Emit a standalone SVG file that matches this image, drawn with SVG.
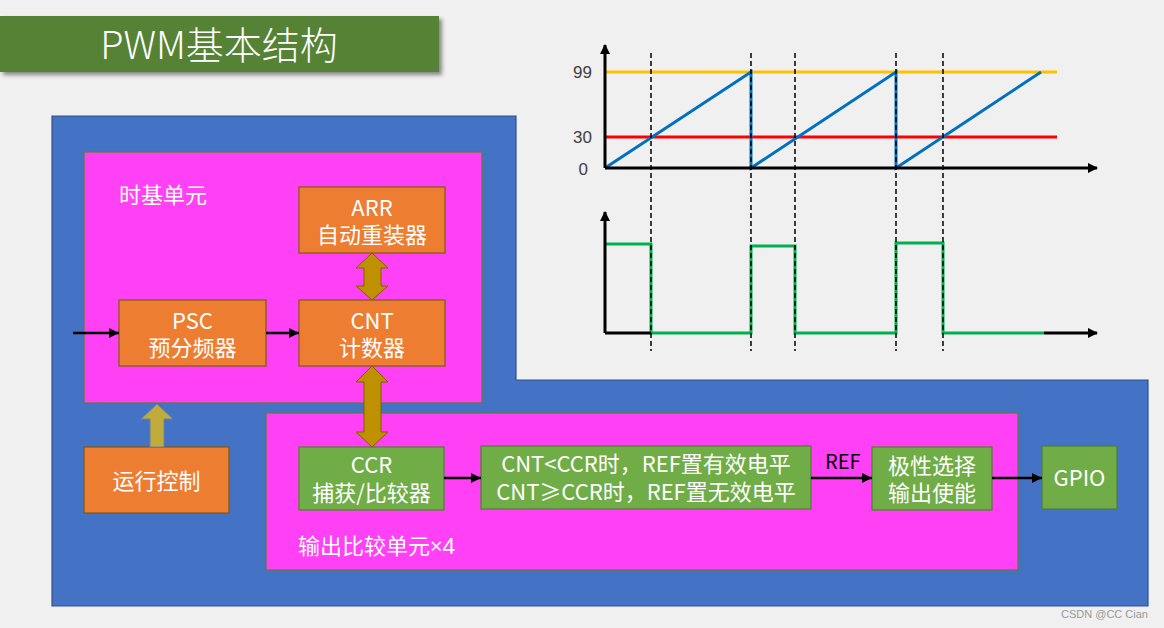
<svg xmlns="http://www.w3.org/2000/svg" width="1164" height="628" viewBox="0 0 1164 628">
<style>
.t{font-family:"Noto Sans CJK SC","Noto Sans",sans-serif;fill:#fff;font-size:22px}
.c{text-anchor:middle}
.org{fill:#ED7D31;stroke:#7F5A10;stroke-width:1.2}
.grn{fill:#70AD47;stroke:#507E32;stroke-width:1.2}
.pink{fill:#FF40F5;stroke:#548235;stroke-width:1.2}
.ax{stroke:#000;stroke-width:3;fill:none}
.dash{stroke:#000;stroke-width:1.5;stroke-dasharray:5,3;fill:none}
.lbl{font-family:"Liberation Sans",Arial,sans-serif;font-size:17px;fill:#404040;text-anchor:end}
.conn{stroke:#000;stroke-width:2.5;fill:none}
</style>
<defs>
<marker id="ah" viewBox="0 0 10 10" refX="10" refY="5" markerWidth="4" markerHeight="4" orient="auto" markerUnits="strokeWidth">
<path d="M0,0L10,5L0,10z" fill="#000"/>
</marker>
<marker id="axh" viewBox="0 0 10 10" refX="9" refY="5" markerWidth="3.5" markerHeight="3.5" orient="auto" markerUnits="strokeWidth">
<path d="M0,0L10,5L0,10z" fill="#000"/>
</marker>
<filter id="sh" x="-5%" y="-20%" width="115%" height="150%">
<feGaussianBlur in="SourceAlpha" stdDeviation="2"/>
<feOffset dx="3" dy="3"/>
<feComponentTransfer><feFuncA type="linear" slope="0.45"/></feComponentTransfer>
<feMerge><feMergeNode/><feMergeNode in="SourceGraphic"/></feMerge>
</filter>
</defs>
<rect width="1164" height="628" fill="#F0F0F0"/>

<g id="title">
<rect x="0" y="16" width="439" height="56" fill="#548235" filter="url(#sh)"/>
<text x="219" y="59" class="t c" style="font-size:38px;font-weight:300">PWM基本结构</text>
</g>

<g id="background">
<polygon points="52,116 516,116 516,380 1148,380 1148,606 52,606" fill="#4472C4" stroke="#2F528F" stroke-width="1.2"/>
</g>

<g id="timebase">
<rect x="84" y="152" width="398" height="251" class="pink"/>
<text x="119" y="203" class="t">时基单元</text>
</g>

<g id="outcompare">
<rect x="266" y="413" width="752" height="157" class="pink"/>
<text x="298" y="554" class="t">输出比较单元<tspan style="font-family:'Noto Sans','Liberation Sans',sans-serif">×4</tspan></text>
</g>

<g id="arr">
<rect x="299" y="187" width="146" height="66" class="org"/>
<text x="372" y="216" class="t c">ARR</text>
<text x="372" y="243" class="t c">自动重装器</text>
</g>

<g id="psc">
<rect x="119" y="300" width="147" height="66" class="org"/>
<text x="192.5" y="329" class="t c">PSC</text>
<text x="192.5" y="356" class="t c">预分频器</text>
</g>

<g id="cnt">
<rect x="299" y="300" width="146" height="66" class="org"/>
<text x="372" y="329" class="t c">CNT</text>
<text x="372" y="356" class="t c">计数器</text>
</g>

<g id="runctrl">
<rect x="84" y="447" width="145" height="66" class="org"/>
<text x="156.5" y="489" class="t c">运行控制</text>
</g>

<g id="ccr">
<rect x="299" y="447" width="145" height="63" class="grn"/>
<text x="371.5" y="473" class="t c">CCR</text>
<text x="371.5" y="501" class="t c">捕获/比较器</text>
</g>

<g id="compare">
<rect x="481" y="446" width="330" height="63" class="grn"/>
<text x="646" y="472" class="t c">CNT&lt;CCR时，REF置有效电平</text>
<text x="646" y="500" class="t c">CNT≥CCR时，REF置无效电平</text>
</g>

<g id="polarity">
<rect x="872" y="447" width="120" height="63" class="grn"/>
<text x="932" y="474" class="t c">极性选择</text>
<text x="932" y="501" class="t c">输出使能</text>
</g>

<g id="gpio">
<rect x="1042" y="446" width="75" height="63" class="grn"/>
<text x="1079.5" y="486" class="t c">GPIO</text>
</g>

<g id="connectors">
<line x1="73" y1="333" x2="119" y2="333" class="conn" marker-end="url(#ah)"/>
<line x1="266" y1="333" x2="299" y2="333" class="conn" marker-end="url(#ah)"/>
<line x1="444" y1="478" x2="481" y2="478" class="conn" marker-end="url(#ah)"/>
<line x1="811" y1="478" x2="872" y2="478" class="conn" marker-end="url(#ah)"/>
<line x1="992" y1="478" x2="1042" y2="478" class="conn" marker-end="url(#ah)"/>
<text x="825" y="469" style="font-family:'Noto Sans CJK SC','Noto Sans',sans-serif;font-size:20px;fill:#000">REF</text>
<polygon points="372,253 388,268 381,268 381,286 388,286 372,300 356,286 364,286 364,268 356,268" fill="#BF9000" stroke="#7F6000" stroke-width="1"/>
<polygon points="372,366 388,382 381,382 381,432 388,432 372,447 356,432 364,432 364,382 356,382" fill="#BF9000" stroke="#7F6000" stroke-width="1"/>
<polygon points="157,404 173,419 164,419 164,447 150,447 150,419 141,419" fill="#C1AB3A" stroke="#6A7FA8" stroke-width="1"/>
</g>

<g id="chart">
<line x1="605" y1="72" x2="1057" y2="72" stroke="#FFC000" stroke-width="3"/>
<line x1="605" y1="137" x2="1057" y2="137" stroke="#FF0000" stroke-width="3"/>
<polyline points="605,168 751,72 751,168 896,72 896,168 1041,72" fill="none" stroke="#0070C0" stroke-width="3"/>
<polyline points="605,244 651,244 651,333 751,333 751,246 795,246 795,333 896,333 896,243 943,243 943,333 1044,333" fill="none" stroke="#00B050" stroke-width="3"/>
<line x1="605" y1="168" x2="605" y2="45" class="ax" marker-end="url(#axh)"/>
<line x1="605" y1="168" x2="1097" y2="168" class="ax" marker-end="url(#axh)"/>
<line x1="605" y1="333" x2="605" y2="212" class="ax" marker-end="url(#axh)"/>
<line x1="1044" y1="333" x2="1097" y2="333" class="ax" marker-end="url(#axh)"/>
<line x1="605" y1="333" x2="651" y2="333" class="ax"/>
<line x1="651" y1="53" x2="651" y2="351" class="dash"/>
<line x1="751" y1="53" x2="751" y2="351" class="dash"/>
<line x1="795" y1="53" x2="795" y2="351" class="dash"/>
<line x1="896" y1="53" x2="896" y2="351" class="dash"/>
<line x1="943" y1="53" x2="943" y2="351" class="dash"/>
<text x="592" y="78" class="lbl">99</text>
<text x="592" y="143" class="lbl">30</text>
<text x="588" y="175" class="lbl">0</text>
</g>

<text x="1148" y="618" style="font-family:'Liberation Sans',Arial,sans-serif;font-size:11px;fill:#999;text-anchor:end">CSDN @CC Cian</text>
</svg>
